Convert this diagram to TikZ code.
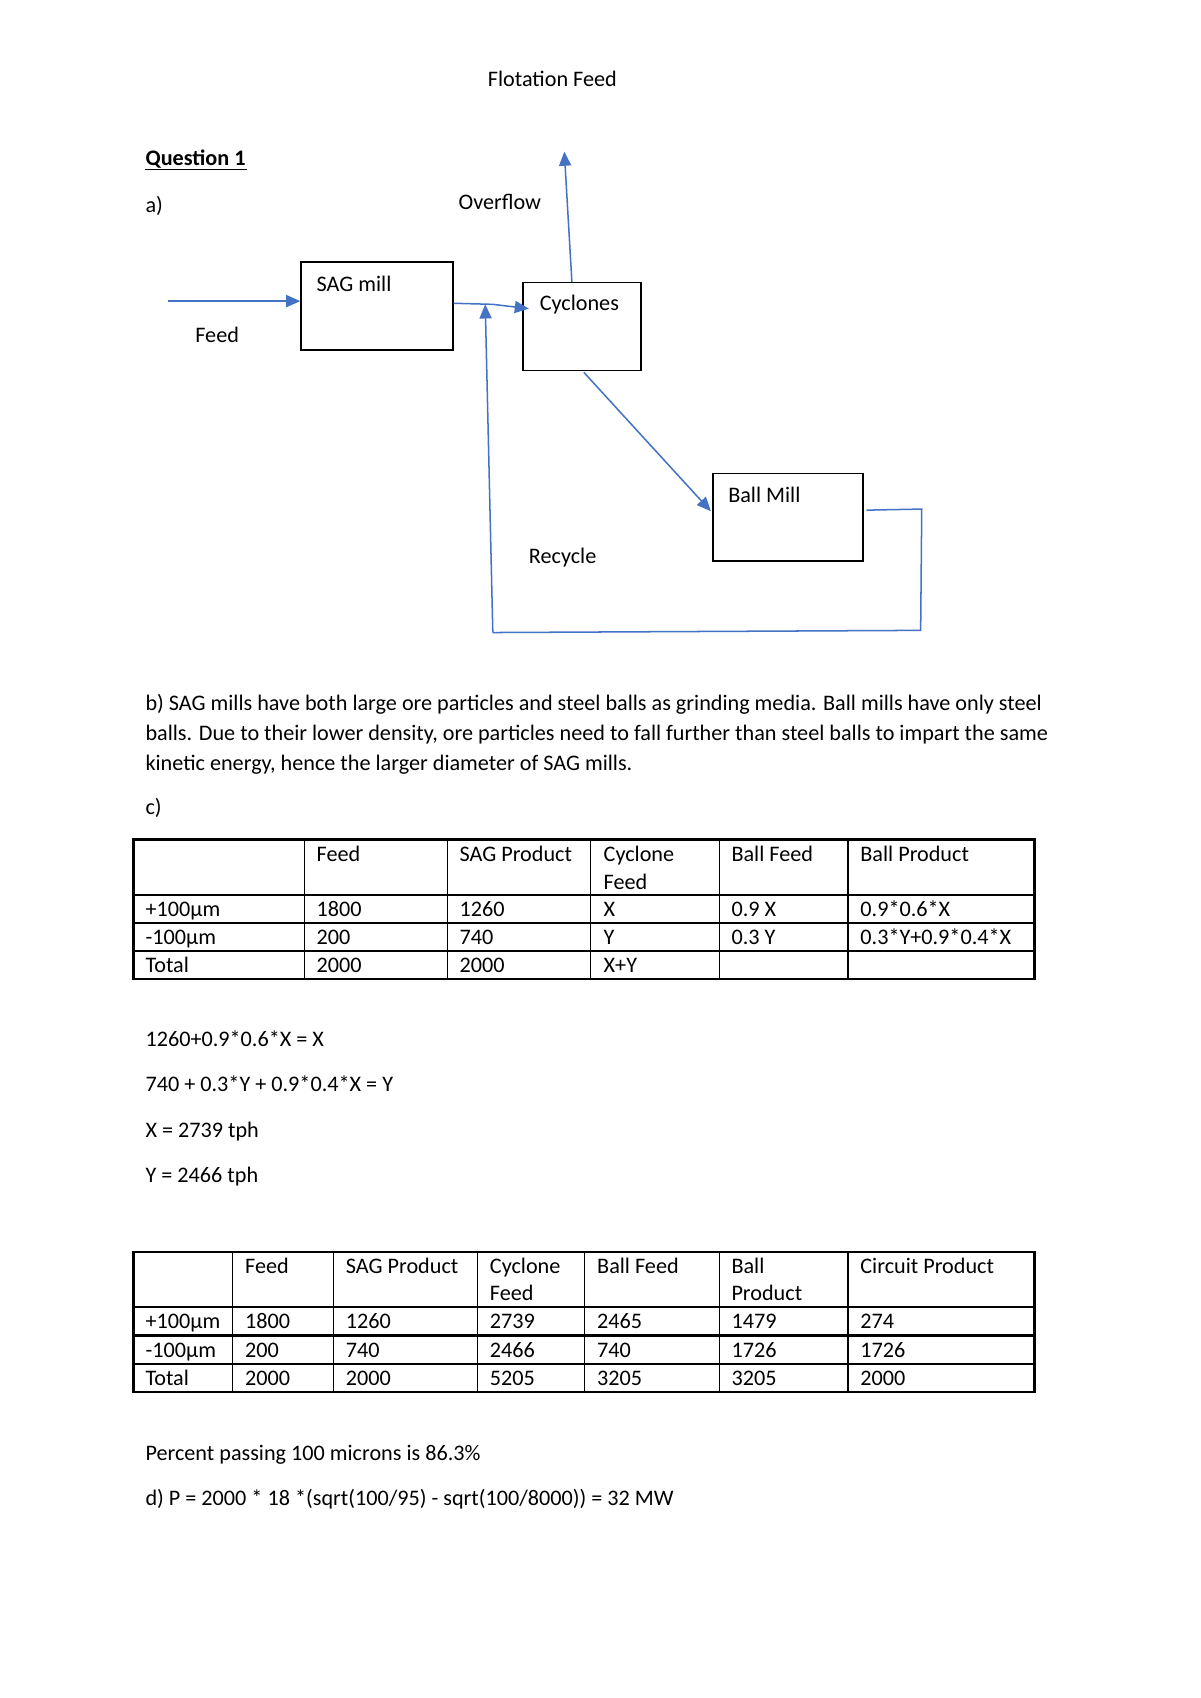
\documentclass[tikz,border=0pt]{standalone}
\usepackage{fontspec}
\setmainfont{Carlito}
\usetikzlibrary{arrows.meta,calc}
\definecolor{flowblue}{HTML}{4472C4}
\begin{document}
\begin{tikzpicture}[x=0.53701pt,y=-0.53701pt,
  txt/.style={anchor=base west,inner sep=0pt,font=\fontsize{11}{13}\selectfont},
  ctxt/.style={anchor=base,inner sep=0pt,font=\fontsize{11}{13}\selectfont},
  unit/.style={draw=black,line width=0.8pt,inner sep=0pt},
  flow/.style={draw=flowblue,line width=0.75pt,-{Triangle[length=7pt,width=6pt]}},
  flowline/.style={draw=flowblue,line width=0.75pt},
  outer/.style={line width=1.3pt,line cap=rect},
  inner/.style={line width=0.6pt}]
\useasboundingbox (0,0) rectangle (1108.5,1567.7);
\fill[white] (0,0) rectangle (1108.5,1567.7);
% heading
\node[ctxt] (title) at (510,80) {Flotation Feed};
\node[txt] (q1) at (134,153) {\textbf{Question 1}};
\draw[line width=0.6pt] ($(q1.base west)+(0,3.5)$) -- ($(q1.base east)+(1,3.5)$);
\node[txt] (qa) at (134,196) {a)};
% flowsheet
\node[unit,minimum width=75.2pt,minimum height=43.5pt] (sag) at (348,282.5) {};
\node[unit,minimum width=58.5pt,minimum height=43.5pt] (cyc) at (537.5,301.5) {};
\node[unit,minimum width=74.6pt,minimum height=43.5pt] (ball) at (727.5,477.5) {};
\node[txt] (sagl) at (292,269) {SAG mill};
\node[txt] (cycl) at (498,287) {Cyclones};
\node[txt] (balll) at (672,464) {Ball Mill};
\node[txt] (feedl) at (180,316) {Feed};
\node[txt] (ovl) at (423,193) {Overflow};
\node[txt] (recl) at (488,520) {Recycle};
\coordinate (feedin) at (155,278);
\coordinate (ovtop) at (521,140);
\coordinate (r1) at (800,471);
\coordinate (r2) at (851,470);
\coordinate (r3) at (850,582);
\coordinate (r4) at (455,584);
\coordinate (r5) at (448,281);
\draw[flow] (feedin) -- (feedin -| sag.west);
\draw[flow] ($(sag.east)+(0,-2.5)$) -- (455,281) -- ($(cyc.west)+(6,-16.5)$);
\draw[flow] ($(cyc.north)+(-9.5,0)$) -- (ovtop);
\draw[flow] ($(cyc.south)+(1.5,1)$) -- ($(ball.west)+(-1,-5.5)$);
\draw[flowline] (r1) -- (r2) -- (r3) -- (r4);
\draw[flow] (r4) -- (r5);
% part b
\node[txt] (b1) at (134,656) {b) SAG mills have both large ore particles and steel balls as grinding media. Ball mills have only steel};
\node[txt] (b2) at (134,684) {balls. Due to their lower density, ore particles need to fall further than steel balls to impart the same};
\node[txt] (b3) at (134,711) {kinetic energy, hence the larger diameter of SAG mills.};
\node[txt] (c) at (134,752) {c)};
% table 1
\foreach \x in {281,413,545,664,783} \draw[inner] (\x,775) -- (\x,904);
\foreach \y in {826,852,878} \draw[line width=1pt] (123,\y) -- (955,\y);
\draw[outer] (123,775) rectangle (955,904);
\foreach \x/\t [count=\i] in {292/Feed,424/SAG Product,557/Cyclone,675/Ball Feed,794/Ball Product}
  \node[txt] (ta-h\i) at (\x,795) {\t};
\node[txt] (ta-h6) at (557,821) {Feed};
\foreach \x/\t [count=\i] in {134/+100µm,292/1800,424/1260,557/X,675/0.9 X,794/0.9*0.6*X}
  \node[txt] (ta-a\i) at (\x,846) {\t};
\foreach \x/\t [count=\i] in {134/-100µm,292/200,424/740,557/Y,675/0.3 Y,794/0.3*Y+0.9*0.4*X}
  \node[txt] (ta-b\i) at (\x,872) {\t};
\foreach \x/\t [count=\i] in {134/Total,292/2000,424/2000,557/X+Y}
  \node[txt] (ta-c\i) at (\x,898) {\t};
% equations
\node[txt] (e1) at (134,966) {1260+0.9*0.6*X = X};
\node[txt] (e2) at (134,1008) {740 + 0.3*Y + 0.9*0.4*X = Y};
\node[txt] (e3) at (134,1050) {X = 2739 tph};
\node[txt] (e4) at (134,1092) {Y = 2466 tph};
% table 2
\foreach \x in {215,308,441,540,664,783} \draw[inner] (\x,1156) -- (\x,1285);
\foreach \y in {1207,1233,1259} \draw[line width=1pt] (123,\y) -- (955,\y);
\draw[outer] (123,1156) rectangle (955,1285);
\foreach \x/\t [count=\i] in {226/Feed,319/SAG Product,452/Cyclone,551/Ball Feed,675/Ball,794/Circuit Product}
  \node[txt] (tb-h\i) at (\x,1176) {\t};
\node[txt] (tb-h7) at (452,1201) {Feed};
\node[txt] (tb-h8) at (675,1201) {Product};
\foreach \x/\t [count=\i] in {134/+100µm,226/1800,319/1260,452/2739,551/2465,675/1479,794/274}
  \node[txt] (tb-a\i) at (\x,1227) {\t};
\foreach \x/\t [count=\i] in {134/-100µm,226/200,319/740,452/2466,551/740,675/1726,794/1726}
  \node[txt] (tb-b\i) at (\x,1253) {\t};
\foreach \x/\t [count=\i] in {134/Total,226/2000,319/2000,452/5205,551/3205,675/3205,794/2000}
  \node[txt] (tb-c\i) at (\x,1279) {\t};
% closing text
\node[txt] (pp) at (134,1348) {Percent passing 100 microns is 86.3\%};
\node[txt] (d) at (134,1390) {d) P = 2000 * 18 *(sqrt(100/95) - sqrt(100/8000)) = 32 MW};
\end{tikzpicture}
\end{document}
